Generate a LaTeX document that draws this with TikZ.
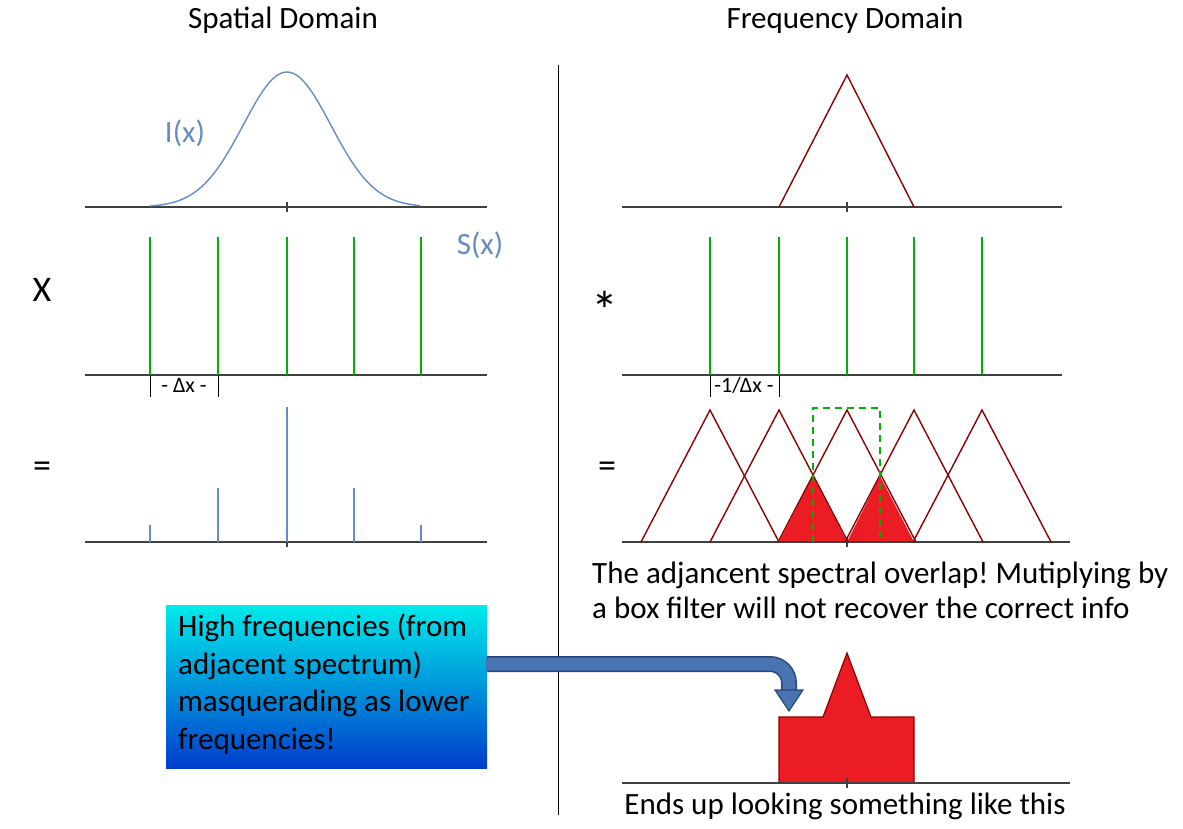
\documentclass[tikz,border=0pt]{standalone}
\usepackage{fontspec}
\setmainfont{Carlito}
\begin{document}
\frenchspacing
\begin{tikzpicture}[x=1pt,y=-1pt,
 ax/.style={draw=black!75,line width=1.2},
 dred/.style={draw=red!55!black,line width=1.4},
 lbl/.style={font=\fontsize{31}{37.5}\selectfont},
 big/.style={font=\fontsize{36}{40}\selectfont},
 sm/.style={font=\fontsize{22}{24}\selectfont}]
\useasboundingbox (0,0) rectangle (1183,828);
\definecolor{lb}{RGB}{100,140,200}
\definecolor{ar}{RGB}{72,116,178}
\definecolor{ard}{RGB}{40,70,120}
\definecolor{rf}{RGB}{236,28,36}
\node[lbl] (t1) at (283,20) {Spatial Domain};
\node[lbl] (t2) at (845,20) {Frequency Domain};
\draw[black,line width=1] (558,65) -- (558,815);
% left row1
\draw[ax] (85,207) -- (487,207); \draw[ax] (287,202) -- (287,212);
\draw[lb,line width=1.4,domain=150:420,samples=80] plot (\x,{207-135*exp(-((\x-287)/62)^2)});
\node[lbl,text=lb] (ix) at (185,133) {I(x)};
% left row2
\draw[ax] (85,375) -- (487,375);
\foreach \x in {150,218,287,354,421}{\draw[line width=1.5,green!70!black] (\x,237) -- (\x,375);}
\node[lbl,text=lb] (sx) at (480,245) {S(x)};
\node[big] (X) at (42,290) {X};
\draw[black,line width=0.8] (150,375) -- (150,397) (218,375) -- (218,397);
\node[sm] (dx) at (184,385) {- Δx -};
% left row3
\draw[ax] (85,542) -- (487,542); \draw[ax] (287,537) -- (287,547);
\foreach \x/\t in {150/525,218/488,287/407,354/488,421/525}{\draw[lb,line width=2] (\x,\t) -- (\x,542);}
\node[big] (eq1) at (42,470) {=};
% right row1
\draw[ax] (622,207) -- (1062,207); \draw[ax] (847,202) -- (847,212);
\draw[dred] (779,207) -- (847,75) -- (914,207);
% right row2
\draw[ax] (622,375) -- (1062,375);
\foreach \x in {710,779,847,914,982}{\draw[line width=1.5,green!70!black] (\x,237) -- (\x,375);}
\node[font=\fontsize{54}{54}\selectfont] (st) at (605,310) {*};
\draw[black,line width=0.8] (710,375) -- (710,397) (779,375) -- (779,397);
\node[sm] (dfx) at (744,385) {-1/Δx -};
% right row3
\fill[rf] (779,542) -- (813,476) -- (847,542) -- cycle;
\fill[rf] (847,542) -- (880,476) -- (914,542) -- cycle;
\draw[ax] (622,542) -- (1070,542); \draw[ax] (847,537) -- (847,547);
\foreach \x in {710,779,847,914,982}{\draw[dred] (\x-69,542) -- (\x,410) -- (\x+69,542);}
\draw[green!70!black,line width=1.6,dash pattern=on 7pt off 5pt] (813,542) -- (813,408) -- (880,408) -- (880,542);
\node[big] (eq2) at (607,470) {=};
\node[lbl,anchor=west,inner sep=0] (c1) at (592,575) {The adjancent spectral overlap! Mutiplying by};
\node[lbl,anchor=west,inner sep=0] (c2) at (592,608) {a box filter will not recover the correct info};
% box
\shade[top color=cyan!60!teal!40!cyan,bottom color=blue!70!cyan!80!black] (166,605) rectangle (487,768);
\node[lbl,anchor=north west,align=left,inner sep=0] (bx) at (178,614) {High frequencies (from\\ adjacent spectrum)\\ masquerading as lower\\ frequencies!};
\coordinate (ab) at (487,664);
% arrow
\draw[line width=16,color=ard] (ab) -- (770,664) arc[start angle=-90,end angle=0,radius=19] -- (789,691);
\draw[line width=13,color=ar] (486,664) -- (770,664) arc[start angle=-90,end angle=0,radius=19] -- (789,692);
\filldraw[fill=ar,draw=ard,line width=1.2] (775,690) -- (803,690) -- (789,711) -- cycle;
% result shape
\filldraw[fill=rf,draw=red!55!black,line width=1.2] (779,783) -- (779,717) -- (823,717) -- (847,653) -- (871,717) -- (914,717) -- (914,783);
\draw[ax] (622,783) -- (1070,783); \draw[ax] (847,778) -- (847,788);
\node[lbl] (c3) at (845,806) {Ends up looking something like this};
\end{tikzpicture}
\end{document}
